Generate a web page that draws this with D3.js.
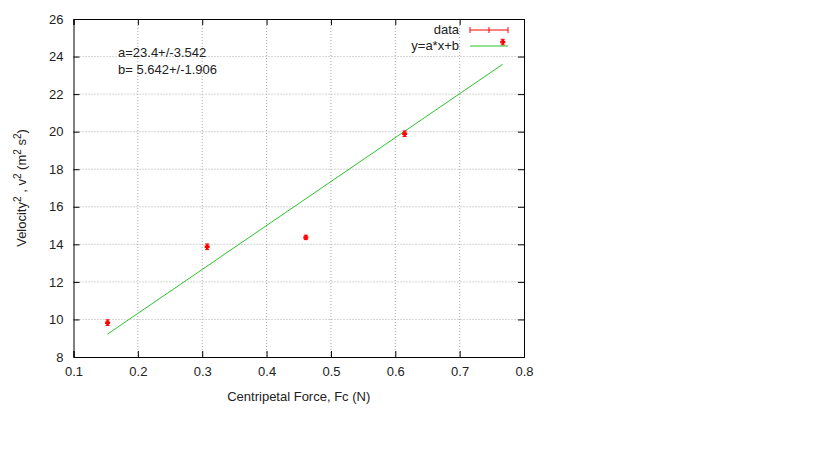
<!DOCTYPE html>
<html><head><meta charset="utf-8">
<script src="https://cdn.jsdelivr.net/npm/d3@7"></script>
<style>body{margin:0;background:#fff}text{font-family:"Liberation Sans",Arial,sans-serif;fill:#222}</style>
</head><body><svg id="c" width="819" height="460"></svg>
<script>
var forceX = [0.153, 0.3077, 0.461, 0.6145, 0.767];
var velSq = [9.83, 13.87, 14.37, 19.89, 24.77];
var velErr = [0.15, 0.15, 0.12, 0.15, 0.15];
var fitA = 23.4, fitB = 5.642;
var xTicks = [0.1, 0.2, 0.3, 0.4, 0.5, 0.6, 0.7, 0.8];
var yTicks = [8, 10, 12, 14, 16, 18, 20, 22, 24, 26];

var svg = d3.select("#c");
var L = 73.5, R = 524, T = 19, B = 357;
var x = d3.scaleLinear().domain([0.1, 0.8]).range([L, R]);
var y = d3.scaleLinear().domain([8, 26]).range([B, T]);

// grid
svg.selectAll("line.gx").data(xTicks.slice(1, -1)).enter().append("line")
  .attr("x1", x).attr("x2", x).attr("y1", T).attr("y2", B)
  .attr("stroke", "#aaa").attr("stroke-dasharray", "1,2");
svg.selectAll("line.gy").data(yTicks.slice(1, -1)).enter().append("line")
  .attr("y1", y).attr("y2", y).attr("x1", L).attr("x2", R)
  .attr("stroke", "#aaa").attr("stroke-dasharray", "1,2");

var xa = svg.append("g").attr("transform", "translate(0," + B + ")")
  .call(d3.axisBottom(x).tickValues(xTicks).tickSize(-6).tickPadding(10).tickFormat(d3.format(".1f")));
var xt = svg.append("g").attr("transform", "translate(0," + T + ")")
  .call(d3.axisTop(x).tickValues(xTicks).tickSize(-6).tickFormat(""));
var ya = svg.append("g").attr("transform", "translate(" + L + ",0)")
  .call(d3.axisLeft(y).tickValues(yTicks).tickSize(-6).tickPadding(10));
var yr = svg.append("g").attr("transform", "translate(" + R + ",0)")
  .call(d3.axisRight(y).tickValues(yTicks).tickSize(-6).tickFormat(""));
[xa, xt, ya, yr].forEach(function(g) {
  g.selectAll("path,line").attr("stroke", "#000");
  g.selectAll("text").attr("font-size", 13).attr("fill", "#222")
   .style("font-family", "Liberation Sans, Arial, sans-serif");
});

// fit line
var x0 = d3.min(forceX), x1 = d3.max(forceX);
svg.append("line").attr("x1", x(x0)).attr("y1", y(fitA * x0 + fitB))
  .attr("x2", x(x1)).attr("y2", y(fitA * x1 + fitB)).attr("stroke", "#2bc42b").attr("stroke-width", 1);

// data points with error bars
var red = "#f00";
var pts = svg.selectAll("g.pt").data(forceX).enter().append("g");
pts.append("line").attr("x1", x).attr("x2", x)
  .attr("y1", function(d, i) { return y(velSq[i] - velErr[i]); })
  .attr("y2", function(d, i) { return y(velSq[i] + velErr[i]); }).attr("stroke", red);
pts.append("path").attr("d", function(d, i) {
  var px = x(d), py = y(velSq[i]);
  return "M" + (px - 2.5) + "," + py + "h5M" + px + "," + (py - 2.5) + "v5";
}).attr("stroke", red).attr("stroke-width", 2.5);
[-1, 1].forEach(function(s) {
  pts.append("line").attr("x1", function(d) { return x(d) - 2; }).attr("x2", function(d) { return x(d) + 2; })
    .attr("y1", function(d, i) { return y(velSq[i] + s * velErr[i]); })
    .attr("y2", function(d, i) { return y(velSq[i] + s * velErr[i]); }).attr("stroke", red);
});

// legend
svg.append("text").attr("x", 459).attr("y", 34).attr("text-anchor", "end").attr("font-size", 13).text("data");
svg.append("line").attr("x1", 470).attr("x2", 508).attr("y1", 30).attr("y2", 30).attr("stroke", red);
[470, 489, 508].forEach(function(px) {
  svg.append("line").attr("x1", px).attr("x2", px).attr("y1", 27).attr("y2", 33).attr("stroke", red);
});
svg.append("text").attr("x", 459).attr("y", 50).attr("text-anchor", "end").attr("font-size", 13).text("y=a*x+b");
svg.append("line").attr("x1", 470).attr("x2", 508).attr("y1", 46).attr("y2", 46).attr("stroke", "#2bc42b");

// fit params
svg.append("text").attr("x", 118).attr("y", 57).attr("font-size", 13).text("a=23.4+/-3.542");
svg.append("text").attr("x", 118).attr("y", 74).attr("font-size", 13).text("b= 5.642+/-1.906");

// axis titles
svg.append("text").attr("x", (L + R) / 2).attr("y", 401).attr("text-anchor", "middle").attr("font-size", 13)
  .text("Centripetal Force, Fc (N)");
var yl = svg.append("text").attr("transform", "translate(26," + ((T + B) / 2) + ") rotate(-90)")
  .attr("text-anchor", "middle").attr("font-size", 13);
yl.append("tspan").text("Velocity");
yl.append("tspan").attr("dy", -5).attr("font-size", 10).text("2");
yl.append("tspan").attr("dy", 5).text(" , v");
yl.append("tspan").attr("dy", -5).attr("font-size", 10).text("2");
yl.append("tspan").attr("dy", 5).text("  (m");
yl.append("tspan").attr("dy", -5).attr("font-size", 10).text("2");
yl.append("tspan").attr("dy", 5).text("  s");
yl.append("tspan").attr("dy", -5).attr("font-size", 10).text("2");
yl.append("tspan").attr("dy", 5).text(")");
</script></body></html>
